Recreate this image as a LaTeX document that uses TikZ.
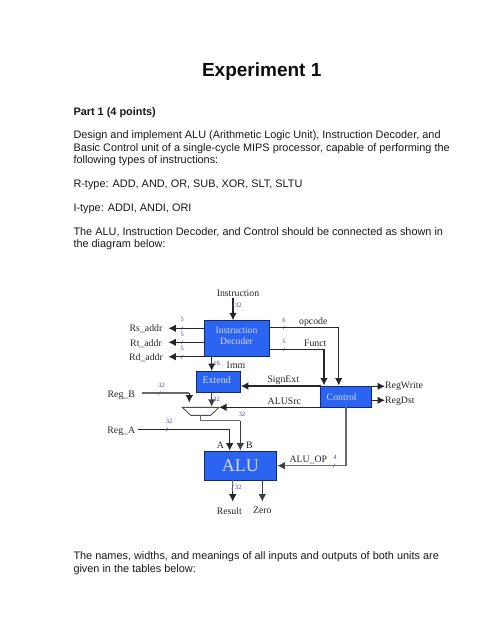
\documentclass[tikz,border=0pt]{standalone}
\usepackage{fontspec}
\setmainfont{Liberation Serif}
\newfontfamily\arialf{Liberation Sans}
\usetikzlibrary{arrows.meta}
\definecolor{boxblue}{RGB}{42,100,240}
\definecolor{boxedge}{RGB}{20,40,110}
\definecolor{widthblue}{RGB}{70,70,175}
\definecolor{wiregray}{RGB}{105,105,105}
\tikzset{
  x=1pt,y=-1pt,
  bluebox/.style={draw=boxedge,line width=0.8pt,fill=boxblue,text=white!85!blue,inner sep=0pt,align=center},
  wire/.style={line width=1.15pt,black!85,-{Latex[length=7.5pt,width=7.5pt]}},
  graywire/.style={line width=1.4pt,wiregray},
  sig/.style={font=\fontsize{9.8}{11}\selectfont,inner sep=0pt,text=black!85},
  wd/.style={font=\fontsize{6.5}{7}\selectfont,inner sep=0pt,text=widthblue},
  tick/.style={line width=0.3pt,widthblue},
  para/.style={font=\arialf\fontsize{10.9}{13}\selectfont,inner sep=0pt,anchor=base west,text=black!90}
}
\begin{document}
\begin{tikzpicture}
\useasboundingbox (0,0) rectangle (495,640);
\fill[white] (0,0) rectangle (495,640);
% page text
\node[inner sep=0pt,anchor=base,font=\arialf\bfseries\fontsize{19}{22}\selectfont,text=black!95] (title) at (261.7,76.7) {Experiment 1};
\node[para,font=\arialf\bfseries\fontsize{10.9}{13}\selectfont] (p1) at (73.3,115) {Part 1 (4 points)};
\node[para] (p2a) at (73.3,138.3) {Design and implement ALU (Arithmetic Logic Unit), Instruction Decoder, and};
\node[para] (p2b) at (73.3,151) {Basic Control unit of a single-cycle MIPS processor, capable of performing the};
\node[para] (p2c) at (73.3,163.7) {following types of instructions:};
\node[para] (p3) at (73.3,187.7) {R-type: ADD, AND, OR, SUB, XOR, SLT, SLTU};
\node[para] (p4) at (73.3,211.7) {I-type: ADDI, ANDI, ORI};
\node[para] (p5a) at (73.3,235) {The ALU, Instruction Decoder, and Control should be connected as shown in};
\node[para] (p5b) at (73.3,247.7) {the diagram below:};
\node[para] (p6a) at (73.3,559) {The names, widths, and meanings of all inputs and outputs of both units are};
\node[para] (p6b) at (73.3,572) {given in the tables below:};
% blocks
\node[bluebox,minimum width=65pt,minimum height=36pt,font=\fontsize{9.6}{11}\selectfont] (dec) at (236.5,338.7) {Instruction\\Decoder\\[-4.6pt]\mbox{}};
\node[bluebox,minimum width=43.5pt,minimum height=21.7pt,font=\fontsize{10}{12}\selectfont] (ext) at (218.5,381.8) {Extend\hspace*{3.5pt}\\[-9pt]\mbox{}};
\node[bluebox,minimum width=51pt,minimum height=21.3pt,font=\fontsize{9.8}{12}\selectfont] (ctl) at (346.2,396.7) {Control\hspace*{9pt}};
\node[bluebox,minimum width=72.7pt,minimum height=29.3pt,font=\fontsize{18}{20}\selectfont] (alu) at (240.3,465.7) {ALU};
% mux
\coordinate (mtl) at (182.3,407.3);
\coordinate (mtr) at (219,407.3);
\coordinate (mbr) at (210.7,415.3);
\coordinate (mbl) at (190.7,415.3);
\draw[line width=0.9pt,black!70] (mtl) -- (mtr) -- (mbr) -- (mbl) -- cycle;
% labels
\node[sig] (instr) at (238,293) {Instruction};
\node[sig] (rs) at (146,328.7) {Rs\_addr};
\node[sig] (rt) at (146,343.5) {Rt\_addr};
\node[sig] (rd) at (146,358) {Rd\_addr};
\node[sig] (regb) at (121.3,395) {Reg\_B};
\node[sig] (rega) at (121.3,431) {Reg\_A};
\node[sig] (imm) at (236,365) {Imm};
\node[sig] (opc) at (313.3,322) {opcode};
\node[sig] (fun) at (315.3,343.7) {Funct};
\node[sig] (sgn) at (283.3,380) {SignExt};
\node[sig] (src) at (284.3,401.7) {ALUSrc};
\node[sig,anchor=west] (rw) at (385,386.7) {RegWrite};
\node[sig,anchor=west] (rdst) at (385,401.7) {RegDst};
\node[sig] (la) at (220.3,445) {A};
\node[sig] (lb) at (249.3,445) {B};
\node[sig] (aop) at (308.3,460) {ALU\_OP};
\node[sig] (res) at (229.3,510.7) {Result};
\node[sig] (zero) at (262.3,510.7) {Zero};
% free wire ends
\coordinate (wI) at (233,298);
\coordinate (wRs) at (168.3,328.3);
\coordinate (wRt) at (168.3,342.3);
\coordinate (wRd) at (168.3,356.7);
% wires
\draw[wire] (wI) -- (wI |- dec.north);
\draw[wire] (dec.west |- wRs) -- (wRs);
\draw[wire] (dec.west |- wRt) -- (wRt);
\draw[wire] (dec.west |- wRd) -- (wRd);
\draw[wire] (211.7,356.7) -- (211.7,371);
\draw[wire,wiregray!60!black] (211.7,392.7) -- (211.7,406.8);
\draw[wire] (269,327.7) -| (338.7,385.5);
\draw[wire] (269,349.3) -| (324,385.5);
\draw[wire] (320.7,386) -- (240.8,386);
\draw[wire] (320.7,407.3) -- (219,407.3);
\draw[wire] (371.7,386.3) -- (385,386.3);
\draw[wire] (371.7,400.3) -- (385,400.3);
\draw[graywire] (142.3,393) -- (189.3,393);
\draw[wire] (189.3,393) -- (189.3,402.7);
\draw[wire] (138.3,429.5) -| (229.7,450.7);
\draw[graywire] (200.3,415.3) |- (240.3,420.7);
\draw[wire,wiregray!60!black] (240.3,420.7) -- (240.3,450.7);
\draw[graywire] (346,407.3) |- (285,465.7);
\draw[wire,wiregray!60!black] (285,465.7) -- (277.3,465.7);
\draw[graywire] (232.7,480.3) -- (232.7,492);
\draw[wire] (232.7,491) -- (232.7,501.7);
\draw[wire,wiregray!60!black] (262.3,480.3) -- (262.3,501.7);
% width labels
\node[wd] (w32a) at (238.3,305) {32};
\node[wd] (w5a) at (182.3,319.3) {5};
\node[wd] (w5b) at (182.3,334.3) {5};
\node[wd] (w5c) at (182.3,348.3) {5};
\node[wd] (w16) at (216.7,363) {16};
\node[wd] (w32b) at (161.7,385.3) {32};
\node[wd] (w32c) at (216.7,399) {32};
\node[wd] (w32d) at (242,414) {32};
\node[wd] (w32e) at (169,421.3) {32};
\node[wd] (w6) at (284,320) {6};
\node[wd] (w5d) at (284,341) {5};
\node[wd] (w4) at (335,457.7) {4};
\node[wd] (w32f) at (238.3,487) {32};
\foreach \a/\b in {233/305,182/328.3,182/342.3,182/356.7,159.5/393,167/429.5,284/327.7,284/349.3,334/465.7,232.7/487}{
  \draw[tick] (\a-1,\b+2) -- (\a+1,\b-2);
}
\end{tikzpicture}
\end{document}
